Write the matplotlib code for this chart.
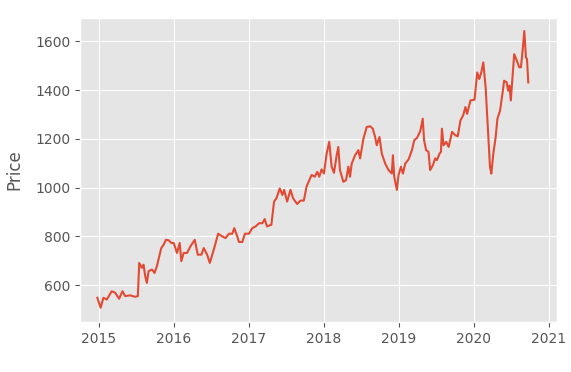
import matplotlib
matplotlib.use('Agg')
import matplotlib.pyplot as plt
import pandas as pd

# weekly closing price (decimal year, price)
years = [2014.978, 2015.022, 2015.058, 2015.103, 2015.170, 2015.214, 2015.268, 2015.313,
         2015.348, 2015.415, 2015.482, 2015.518, 2015.536, 2015.571, 2015.594, 2015.616,
         2015.638, 2015.661, 2015.705, 2015.741, 2015.772, 2015.830, 2015.862, 2015.893,
         2015.929, 2015.964, 2015.996, 2016.040, 2016.076, 2016.098, 2016.129, 2016.174,
         2016.219, 2016.277, 2016.317, 2016.366, 2016.397, 2016.442, 2016.478, 2016.531,
         2016.589, 2016.643, 2016.688, 2016.732, 2016.777, 2016.804, 2016.844, 2016.866,
         2016.911, 2016.946, 2017.000, 2017.045, 2017.089, 2017.134,
         2017.179, 2017.210, 2017.241, 2017.299, 2017.335, 2017.366, 2017.411, 2017.446,
         2017.469, 2017.509, 2017.554, 2017.589, 2017.643, 2017.688, 2017.732, 2017.768,
         2017.835, 2017.879, 2017.911, 2017.938, 2017.969, 2018.000, 2018.036, 2018.071,
         2018.103, 2018.134, 2018.170, 2018.192, 2018.214, 2018.259, 2018.295, 2018.326,
         2018.348, 2018.371, 2018.415, 2018.460, 2018.482, 2018.504, 2018.527, 2018.571,
         2018.616, 2018.652, 2018.683, 2018.705, 2018.741, 2018.772, 2018.817, 2018.862,
         2018.906, 2018.920, 2018.938, 2018.973, 2018.996, 2019.027, 2019.054, 2019.085,
         2019.129, 2019.174, 2019.205, 2019.241, 2019.286,
         2019.318, 2019.336, 2019.363, 2019.395, 2019.417, 2019.453, 2019.484, 2019.507,
         2019.543, 2019.561, 2019.574, 2019.596, 2019.632, 2019.664, 2019.709, 2019.753,
         2019.785, 2019.821, 2019.857, 2019.888, 2019.910, 2019.955, 2020.009, 2020.045,
         2020.072, 2020.099, 2020.126, 2020.157, 2020.188, 2020.215, 2020.233, 2020.260,
         2020.291, 2020.314, 2020.350, 2020.381, 2020.404, 2020.439, 2020.457, 2020.475,
         2020.493, 2020.516, 2020.538, 2020.574, 2020.605, 2020.628, 2020.650, 2020.673,
         2020.695, 2020.709, 2020.726]
price = [548, 507, 548, 541, 575, 569, 544, 575,
         555, 558, 552, 555, 691, 671, 684, 637,
         609, 657, 664, 650, 678, 752, 766, 786,
         784, 773, 773, 732, 773, 698, 732, 732,
         759, 786, 725, 725, 752, 725, 691, 746,
         811, 800, 793, 811, 811, 834, 800, 777,
         777, 811, 811, 834, 841, 854,
         854, 871, 841, 848, 943, 956, 997, 970,
         991, 943, 991, 956, 933, 947, 947, 1004,
         1052, 1045, 1065, 1045, 1075, 1058, 1140, 1188,
         1086, 1061, 1133, 1167, 1072, 1024, 1031, 1086,
         1045, 1099, 1133, 1154, 1120, 1160, 1201, 1249,
         1252, 1242, 1208, 1174, 1208, 1140, 1099, 1072,
         1058, 1133, 1045, 991, 1052, 1086, 1058, 1099,
         1116, 1154, 1195, 1204, 1233,
         1283, 1195, 1154, 1147, 1072, 1092, 1120, 1113,
         1140, 1147, 1242, 1174, 1188, 1167, 1229, 1215,
         1211, 1276, 1297, 1331, 1303, 1358, 1361, 1473,
         1446, 1473, 1514, 1412, 1235, 1086, 1058, 1140,
         1208, 1283, 1317, 1385, 1439, 1432, 1398, 1419,
         1358, 1453, 1548, 1521, 1494, 1494, 1562, 1643,
         1534, 1528, 1432]

start = pd.Timestamp('2015-01-01')
dates = [start + pd.Timedelta(days=(y - 2015) * 365.25) for y in years]

plt.style.use('ggplot')
fig = plt.figure(figsize=(5.71, 3.72), dpi=100)
ax = fig.add_axes([0.14, 0.134, 0.835, 0.818])
ax.plot(dates, price, color='#E24A33', linewidth=1.5)
ax.set_ylabel('Price', fontsize=12, labelpad=8)
ax.set_ylim(448, 1697)
ax.set_xlim(pd.Timestamp('2014-09-30'), pd.Timestamp('2021-02-08'))
ax.set_yticks([600, 800, 1000, 1200, 1400, 1600])

fig.savefig('out.png', dpi=100)
